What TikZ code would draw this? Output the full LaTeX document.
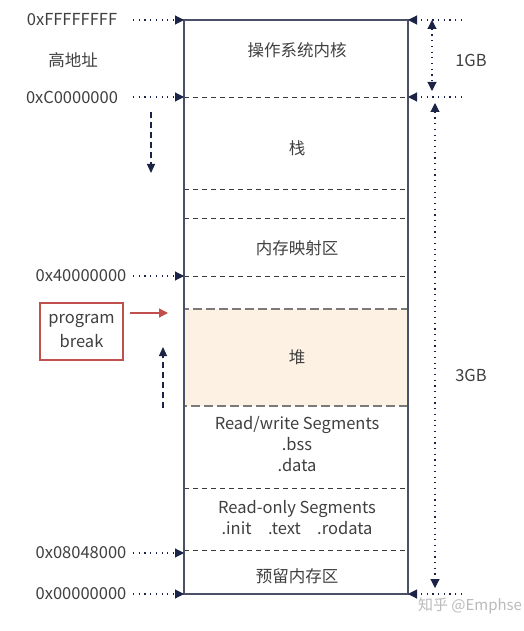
\documentclass[tikz,border=0pt]{standalone}
\usepackage{fontspec}
\setmainfont{Noto Sans CJK SC}
\usetikzlibrary{arrows.meta}
\definecolor{txt}{HTML}{404040}
\definecolor{navy}{HTML}{1B2347}
\definecolor{boxline}{HTML}{4A5068}
\definecolor{divline}{HTML}{3A3A3A}
\definecolor{heapfill}{HTML}{FDF1E4}
\definecolor{heapline}{HTML}{7A7A7A}
\definecolor{brkred}{HTML}{C0504D}
\definecolor{wm}{HTML}{BBBBBB}
\tikzset{
  lbl/.style={text=txt, inner sep=0pt},
  divider/.style={draw=divline, line width=0.9pt, dash pattern=on 5pt off 4pt},
  heapdash/.style={draw=heapline, line width=1.3pt, dash pattern=on 9pt off 4pt},
  outline/.style={draw=boxline, line width=1.3pt},
  dotarrow/.style={draw=navy, line width=1.1pt, dash pattern=on 1.2pt off 4.5pt, -{Triangle[length=9pt,width=9pt]}},
  dblarrow/.style={draw=navy, line width=1.1pt, dash pattern=on 1.2pt off 4.5pt, {Triangle[length=9pt,width=9pt]}-{Triangle[length=9pt,width=9pt]}},
  dasharrow/.style={draw=navy, line width=1.3pt, dash pattern=on 6pt off 4pt, -{Triangle[length=9pt,width=8pt]}},
  redarrow/.style={draw=brkred, line width=1.2pt, -{Triangle[length=9pt,width=9pt]}},
}
\begin{document}
\begin{tikzpicture}[x=1pt,y=-1pt, font=\fontsize{16.5}{20}\selectfont]
\useasboundingbox[fill=white] (0,0) rectangle (524,631);
% heap region
\fill[heapfill] (184,309) rectangle (408,406);
\draw[heapdash] (184,309) rectangle (408,406);
% dividers
\foreach \y in {97,189,218,276,488,550} \draw[divider] (184,\y) -- (408,\y);
% outline
\coordinate (tl) at (184,20);
\coordinate (br) at (408,594);
\draw[outline] (tl) rectangle (br);
% region texts
\node[lbl] (kern) at (297,50) {操作系统内核};
\node[lbl] (stack) at (297,148) {栈};
\node[lbl] (mmap) at (297,248) {内存映射区};
\node[lbl] (heap) at (297,357) {堆};
\node[lbl, align=center, font=\fontsize{16.5}{21}\selectfont] (rw) at (297,444) {Read/write Segments\\.bss\\.data};
\node[lbl, align=center, font=\fontsize{16.5}{21}\selectfont] (ro) at (297,517.5) {Read-only Segments\\.init\hspace{1em}.text\hspace{1em}.rodata};
\node[lbl] (resv) at (297,576) {预留内存区};
% left addresses
\node[lbl] (aF) at (72,20) {0xFFFFFFFF};
\node[lbl] (hi) at (73,60) {高地址};
\node[lbl] (aC) at (72,97) {0xC0000000};
\node[lbl] (a4) at (81,276) {0x40000000};
\node[lbl] (a08) at (81,553) {0x08048000};
\node[lbl] (a0) at (81,594) {0x00000000};
\coordinate (sF) at (133,20);   \coordinate (eF) at (184,20);
\coordinate (sC) at (133,97);   \coordinate (eC) at (184,97);
\coordinate (s4) at (133,276);  \coordinate (e4) at (184,276);
\coordinate (s08) at (133,553); \coordinate (e08) at (184,553);
\coordinate (s0) at (133,594);  \coordinate (e0) at (184,594);
\draw[dotarrow] (sF) -- (eF);
\draw[dotarrow] (sC) -- (eC);
\draw[dotarrow] (s4) -- (e4);
\draw[dotarrow] (s08) -- (e08);
\draw[dotarrow] (s0) -- (e0);
% growth arrows
\coordinate (dn1) at (151,112); \coordinate (dn2) at (151,173);
\draw[dasharrow] (dn1) -- (dn2);
\coordinate (up1) at (163,408); \coordinate (up2) at (163,347);
\draw[dasharrow] (up1) -- (up2);
% program break
\node[draw=brkred, line width=1.1pt, minimum width=83pt, minimum height=57pt, align=center, text=txt, font=\fontsize{16.5}{24}\selectfont] (pb) at (81.5,331.5) {program\\break};
\coordinate (pbt) at (168,313);
\coordinate (pbs) at (130,313);
\draw[redarrow] (pbs) -- (pbt);
% right side
\coordinate (rT) at (462,20);  \coordinate (rTe) at (408,20);
\coordinate (rC) at (462,97);  \coordinate (rCe) at (408,97);
\coordinate (rB) at (462,594); \coordinate (rBe) at (408,594);
\draw[dotarrow] (rT) -- (rTe);
\draw[dotarrow] (rC) -- (rCe);
\draw[dotarrow] (rB) -- (rBe);
\coordinate (g1a) at (432,20); \coordinate (g1b) at (432,91);
\draw[dblarrow] (g1a) -- (g1b);
\coordinate (g3a) at (435,103); \coordinate (g3b) at (435,588);
\draw[dblarrow] (g3a) -- (g3b);
\node[lbl] (gb1) at (471,60) {1GB};
\node[lbl] (gb3) at (471,375) {3GB};
% watermark
\node[lbl, text=wm, font=\fontsize{15}{18}\selectfont] (wmk) at (470,606) {知乎 @Emphse};
\end{tikzpicture}
\end{document}
